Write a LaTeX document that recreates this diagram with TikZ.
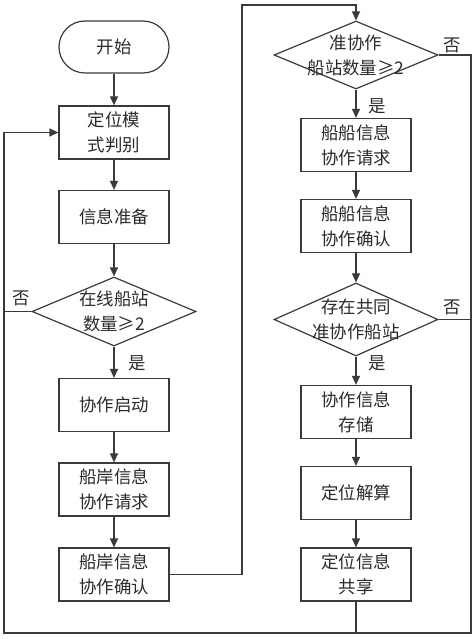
\documentclass[tikz,border=0pt]{standalone}
\usepackage{fontspec}
\setmainfont{Noto Sans CJK SC}
\usetikzlibrary{shapes.geometric,arrows.meta}
\definecolor{ln}{HTML}{3A3A3A}
\definecolor{txt}{HTML}{2A2A2A}
\begin{document}
\begin{tikzpicture}[x=1bp,y=-1bp,
  every node/.style={font=\fontsize{17.5}{25}\selectfont, text=txt},
  box/.style={draw=ln, line width=1.2bp, minimum width=110bp, minimum height=53bp, inner sep=0pt, align=center},
  term/.style={box, rounded corners=26bp, minimum height=52bp},
  dia/.style={shape=diamond, draw=ln, line width=1.2bp, minimum width=164bp, inner sep=0pt},
  dtxt/.style={align=center, inner sep=0pt},
  lab/.style={inner sep=0pt},
  conn/.style={draw=ln, line width=1.2bp},
  arr/.style={conn, -{Triangle[length=9bp,width=8bp]}}
]
\useasboundingbox (0,0) rectangle (474,639);
% left column
\node[term] (L0) at (114,47) {开始};
\node[box] (L1) at (114,132.5) {定位模\\式判别};
\node[box] (L2) at (114,217) {信息准备};
\node[dia, minimum height=69bp] (LD) at (114,311.5) {};
\node[dtxt] (LDt) at (114,311.5) {在线船站\\数量≥2};
\node[box] (L3) at (114,405) {协作启动};
\node[box] (L4) at (114,489.5) {船岸信息\\协作请求};
\node[box] (L5) at (114,574.5) {船岸信息\\协作确认};
% right column
\node[dia, minimum height=68bp] (RD1) at (356,55) {};
\node[dtxt] (RD1t) at (356,55) {准协作\\船站数量≥2};
\node[box] (R1) at (356,145) {船船信息\\协作请求};
\node[box] (R2) at (356,226) {船船信息\\协作确认};
\node[dia, minimum height=73bp] (RD2) at (356,319.5) {};
\node[dtxt] (RD2t) at (356,319.5) {存在共同\\准协作船站};
\node[box] (R3) at (356,412) {协作信息\\存储};
\node[box] (R4) at (356,493) {定位解算};
\node[box] (R5) at (356,574.5) {定位信息\\共享};
% labels
\node[lab] (n1) at (21,298) {否};
\node[lab] (y1) at (137,363) {是};
\node[lab] (n2) at (452,45) {否};
\node[lab] (y2) at (377,106) {是};
\node[lab] (n3) at (452,307) {否};
\node[lab] (y3) at (377,363) {是};
% coordinates
\coordinate (c1) at (242,5);
\coordinate (bl) at (4,633);
\coordinate (br) at (471,633);
% connectors
\draw[arr] (L0) -- (L1);
\draw[arr] (L1) -- (L2);
\draw[arr] (L2) -- (LD);
\draw[arr] (LD) -- (L3);
\draw[arr] (L3) -- (L4);
\draw[arr] (L4) -- (L5);
\draw[arr] (L5.east) -| (c1) -| (RD1.north);
\draw[arr] (RD1) -- (R1);
\draw[arr] (R1) -- (R2);
\draw[arr] (R2) -- (RD2);
\draw[arr] (RD2) -- (R3);
\draw[arr] (R3) -- (R4);
\draw[arr] (R4) -- (R5);
\draw[arr] (RD1.east) -| (br) -- (bl) |- (L1.west);
\draw[conn] (RD2.east) -- (RD2.east -| br);
\draw[conn] (LD.west) -- (LD.west -| bl);
\draw[conn] (R5.south) -- (R5.south |- bl);
\end{tikzpicture}
\end{document}
